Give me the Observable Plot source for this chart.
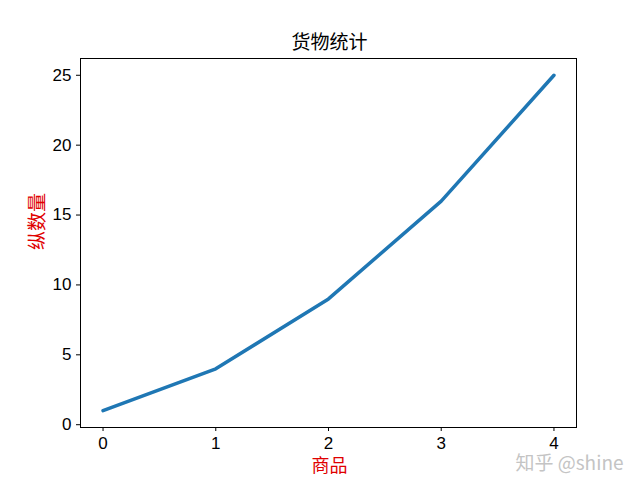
<!DOCTYPE html>
<html><head><meta charset="utf-8">
<script src="https://cdn.jsdelivr.net/npm/d3@7"></script>
<script src="https://cdn.jsdelivr.net/npm/@observablehq/plot@0.6"></script>
<style>body{margin:0;background:#fff}</style>
</head><body><div id="chart"></div>
<script>
const goods = [0, 1, 2, 3, 4];
const counts = [1, 4, 9, 16, 25];
const xTicks = [0, 1, 2, 3, 4];
const yTicks = [0, 5, 10, 15, 20, 25];
const title = "货物统计";
const xLabel = "商品";
const yLabel = "纵数量";
const watermark = "知乎 @shine";

const data = goods.map((g, i) => ({x: g, y: counts[i]}));
const cjk = "'Noto Sans CJK SC', sans-serif";
const latin = "'Liberation Sans', 'DejaVu Sans', sans-serif";

const chart = Plot.plot({
  width: 640, height: 480,
  marginLeft: 80, marginRight: 64, marginTop: 58, marginBottom: 53,
  style: {fontFamily: latin, fontSize: "17px", background: "#fff", color: "#000"},
  x: {domain: [-0.2, 4.2]},
  y: {domain: [-0.2, 26.2]},
  marks: [
    Plot.frame({stroke: "#000", strokeWidth: 1}),
    Plot.axisX({ticks: xTicks, tickFormat: d3.format("d"), tickSize: 4, tickPadding: 5, label: null, fontSize: 17}),
    Plot.axisY({ticks: yTicks, tickFormat: d3.format("d"), tickSize: 4, tickPadding: 5, label: null, fontSize: 17}),
    Plot.line(data, {x: "x", y: "y", stroke: "#1f77b4", strokeWidth: 3.5}),
    Plot.text([title], {frameAnchor: "top", lineAnchor: "middle", dx: 1, dy: -16, text: d => d, fontSize: 19, fontFamily: cjk, fill: "#000"}),
    Plot.text([xLabel], {frameAnchor: "bottom", lineAnchor: "middle", dx: 1, dy: 39, text: d => d, fontSize: 18, fontFamily: cjk, fill: "#e00000"}),
    Plot.text([yLabel], {frameAnchor: "left", lineAnchor: "middle", dx: -43, dy: 7, rotate: -90, text: d => d, fontSize: 19, fontFamily: cjk, fill: "#e00000"}),
    Plot.text([watermark], {frameAnchor: "bottom-right", lineAnchor: "middle", dx: 47, dy: 36, textAnchor: "end", text: d => d, fontSize: 19, fontFamily: cjk, fill: "#c4c4c4"})
  ]
});
document.getElementById("chart").appendChild(chart);
</script>
</body></html>
